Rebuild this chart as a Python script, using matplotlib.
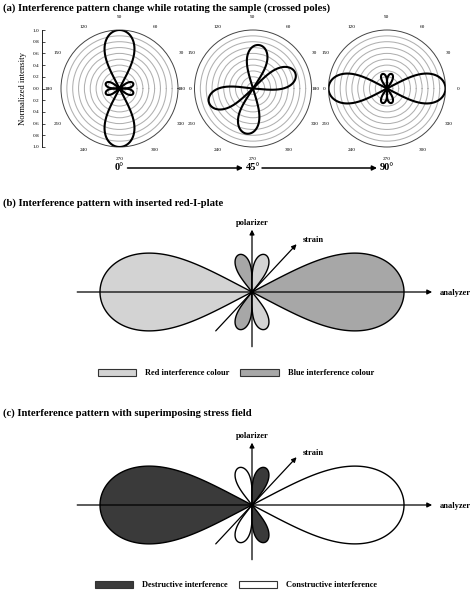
import numpy as np
import matplotlib

matplotlib.use("Agg")
import matplotlib.pyplot as plt
from matplotlib.patches import Patch

W, H, DPI = 474, 592, 100

plt.rcParams["font.family"] = ["Liberation Serif", "DejaVu Serif"]
plt.rcParams["font.weight"] = "bold"

# ---- (a) rotation stages: lobes as (axis angle [deg], length, sharpness k)
STAGES = ["0°", "45°", "90°"]
LOBE_ANGLE = {
    "0°": [90, 270, 20, 340, 160, 200],
    "45°": [20, 82, 198, 262],
    "90°": [0, 180, 73, 107, 253, 287],
}
LOBE_LEN = {
    "0°": [1.0, 1.0, 0.25, 0.25, 0.25, 0.25],
    "45°": [0.77, 0.75, 0.79, 0.78],
    "90°": [1.0, 1.0, 0.26, 0.26, 0.26, 0.26],
}
LOBE_K = {
    "0°": [3.25, 3.25, 4.5, 4.5, 4.5, 4.5],
    "45°": [3.6, 3.6, 3.6, 3.6],
    "90°": [3.25, 3.25, 4.8, 4.8, 4.8, 4.8],
}
LOBE_P = 0.34  # bluntness of every lobe
THETA_TICKS = list(range(0, 360, 30))
R_GRID = [0.1, 0.2, 0.3, 0.4, 0.5, 0.6, 0.7, 0.8, 0.9]
SCALE_TICKS = [-1.0, -0.8, -0.6, -0.4, -0.2, 0.0, 0.2, 0.4, 0.6, 0.8, 1.0]

# ---- (b)/(c) lobe layout: main lobes left/right, petals UL, UR, LL, LR
MAIN_ANGLE = [180, 0]
MAIN_LEN = [1.0, 1.0]
MAIN_K = 3.25
PETAL_ANGLE = [109, 71, 251, 289]
PETAL_LEN = [0.26, 0.26, 0.26, 0.26]
PETAL_K = 4.6
STRAIN_ANGLE = 47

RED, BLUE = "#d3d3d3", "#a7a7a7"
DARK, LIGHT = "#3a3a3a", "#ffffff"
PLATE_MAIN = [RED, BLUE]
PLATE_PETAL = [BLUE, RED, BLUE, RED]
STRESS_MAIN = [DARK, LIGHT]
STRESS_PETAL = [LIGHT, DARK, LIGHT, DARK]
PLATE_LABELS = ["Red interference colour", "Blue interference colour"]
STRESS_LABELS = ["Destructive interference", "Constructive interference"]


def lobe(angle_deg, length, k, p=LOBE_P, n=400):
    half = np.pi / (2 * k)
    phi = np.linspace(-half, half, n)
    r = length * np.clip(np.cos(k * phi), 0, None) ** p
    return np.deg2rad(angle_deg) + phi, r


def px_axes(fig, x0, y0, x1, y1, **kw):
    # axes placed by pixel box (top-left origin)
    return fig.add_axes([x0 / W, 1 - y1 / H, (x1 - x0) / W, (y1 - y0) / H], **kw)


fig = plt.figure(figsize=(W / DPI, H / DPI), dpi=DPI)

# canvas in pixel units for titles and the rotation arrows
canvas = px_axes(fig, 0, 0, W, H)
canvas.set_xlim(0, W)
canvas.set_ylim(H, 0)
canvas.axis("off")

TITLE_FS = 7.7
canvas.text(3, 8, "(a) Interference pattern change while rotating the sample (crossed poles)",
            fontsize=TITLE_FS, va="center", ha="left")
canvas.text(3, 203, "(b) Interference pattern with inserted red-I-plate",
            fontsize=TITLE_FS, va="center", ha="left")
canvas.text(3, 413, "(c) Interference pattern with superimposing stress field",
            fontsize=TITLE_FS, va="center", ha="left")

# ---- (a) polar plots
R = 58.5
CY = 88.5
CX = [119.5, 253, 387]
for cx, stage in zip(CX, STAGES):
    ax = px_axes(fig, cx - R, CY - R, cx + R, CY + R, projection="polar")
    for a, L, k in zip(LOBE_ANGLE[stage], LOBE_LEN[stage], LOBE_K[stage]):
        th, r = lobe(a, L, k)
        ax.plot(th, r, color="black", lw=1.5, zorder=3)
    ax.set_ylim(0, 1)
    ax.set_yticks(R_GRID)
    ax.set_yticklabels([])
    ax.set_xticks(np.deg2rad(THETA_TICKS))
    ax.set_xticklabels([str(t) for t in THETA_TICKS], fontsize=3.8, fontweight="normal")
    ax.yaxis.grid(True, color="#b0b0b0", lw=0.75)
    ax.xaxis.grid(False)
    ax.tick_params(axis="x", pad=1, direction="inout", length=2, width=0.5)
    ax.spines["polar"].set_linewidth(0.7)
    ax.spines["polar"].set_color("#444444")
    ax.set_facecolor("none")

# intensity scale
sax = px_axes(fig, 42, CY - R, 42.5, CY + R)
sax.set_ylim(-1, 1)
sax.set_yticks(SCALE_TICKS)
sax.set_yticklabels([f"{abs(v):.1f}" for v in SCALE_TICKS], fontsize=3.8, fontweight="normal")
sax.tick_params(axis="y", direction="in", length=2.5, width=0.5, pad=2)
sax.set_xticks([])
for s in ("top", "right", "bottom"):
    sax.spines[s].set_visible(False)
sax.spines["left"].set_linewidth(0.6)
sax.set_facecolor("none")
sax.set_ylabel("Normalized intensity", fontsize=6.2, labelpad=4)

# rotation arrows
ARROW_Y = 168
for cx, stage in zip(CX, STAGES):
    canvas.text(cx, ARROW_Y, stage, fontsize=7.5, ha="center", va="center")
for x0, x1 in [(CX[0] + 8, CX[1] - 10), (CX[1] + 9, CX[2] - 10)]:
    canvas.annotate("", xy=(x1, ARROW_Y), xytext=(x0, ARROW_Y),
                    arrowprops=dict(arrowstyle="-|>", color="black", lw=1.1,
                                    mutation_scale=7, shrinkA=0, shrinkB=0))


# ---- (b) / (c) schematic patterns
S = 152.0  # px per unit lobe length


def pattern(cy, top, bottom, main_fill, petal_fill):
    ax = px_axes(fig, 0, top, W, bottom)
    cx = 252
    ax.set_xlim((0 - cx) / S, (W - cx) / S)
    ax.set_ylim((cy - bottom) / S, (cy - top) / S)
    ax.axis("off")
    for a, L, c in zip(MAIN_ANGLE, MAIN_LEN, main_fill):
        th, r = lobe(a, L, MAIN_K)
        ax.fill(r * np.cos(th), r * np.sin(th), facecolor=c, edgecolor="black", lw=1.0, zorder=2)
    for a, L, c in zip(PETAL_ANGLE, PETAL_LEN, petal_fill):
        th, r = lobe(a, L, PETAL_K)
        ax.fill(r * np.cos(th), r * np.sin(th), facecolor=c, edgecolor="black", lw=1.0, zorder=2)
    arrow = dict(arrowstyle="-|>", color="black", lw=0.9, mutation_scale=7,
                 shrinkA=0, shrinkB=0)
    # analyzer (horizontal) and polarizer (vertical)
    ax.annotate("", xy=(1.185, 0), xytext=(-1.15, 0), arrowprops=arrow, zorder=4)
    ax.annotate("", xy=(0, 0.41), xytext=(0, -0.36), arrowprops=arrow, zorder=4)
    sa = np.deg2rad(STRAIN_ANGLE)
    ax.annotate("", xy=(0.43 * np.cos(sa), 0.43 * np.sin(sa)),
                xytext=(-0.35 * np.cos(sa), -0.35 * np.sin(sa)), arrowprops=arrow, zorder=4)
    ax.text(0, 0.43, "polarizer", fontsize=6, ha="center", va="bottom")
    ax.text(0.335, 0.345, "strain", fontsize=6, ha="left", va="center")
    ax.text(1.235, -0.005, "analyzer", fontsize=6, ha="left", va="center")
    return ax


ax_b = pattern(292, 215, 358, PLATE_MAIN, PLATE_PETAL)
ax_c = pattern(505, 425, 566, STRESS_MAIN, STRESS_PETAL)

for ax, fills, labels, ly in [(ax_b, PLATE_MAIN, PLATE_LABELS, 373),
                              (ax_c, STRESS_MAIN, STRESS_LABELS, 585)]:
    handles = [Patch(facecolor=c, edgecolor="#333333", lw=0.8) for c in fills]
    ax.legend(handles, labels, loc="center", bbox_to_anchor=(236, ly),
              bbox_transform=canvas.transData, ncol=2, frameon=False, fontsize=6,
              handlelength=4.6, handleheight=1.0, handletextpad=1.1,
              columnspacing=1.3, borderpad=0, borderaxespad=0)

fig.savefig("out.png", dpi=DPI)
